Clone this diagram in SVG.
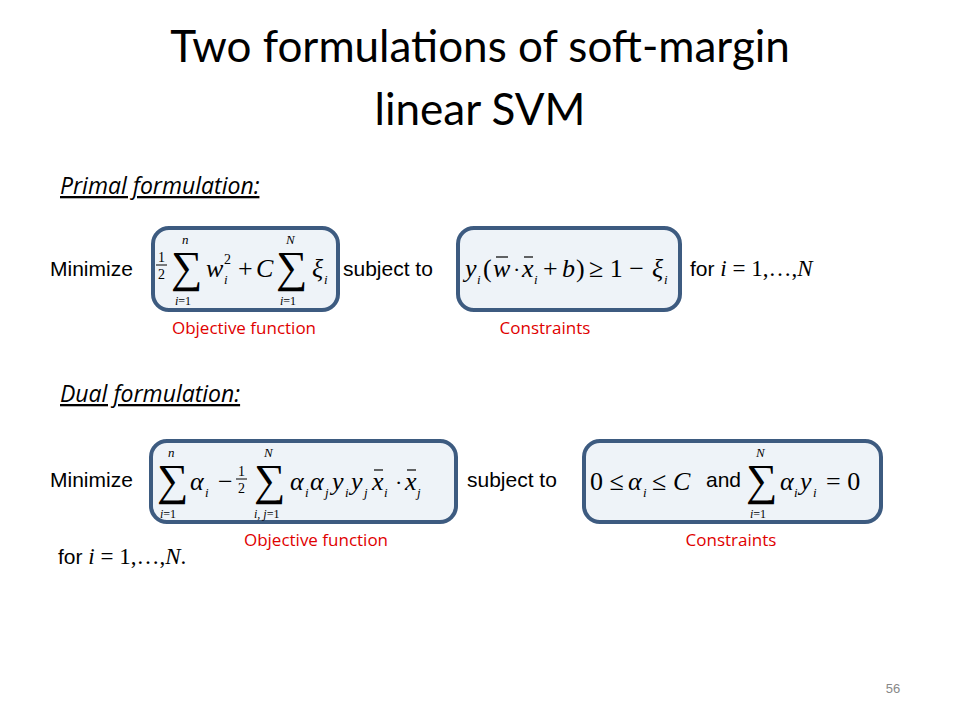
<svg xmlns="http://www.w3.org/2000/svg" width="960" height="720" viewBox="0 0 960 720">
<style>
.t{font-family:"Liberation Sans",Arial,sans-serif;fill:#000}
.ti{font-family:Lato,"Liberation Sans",sans-serif;fill:#000;font-size:44px}
.m{font-family:"Liberation Serif","Times New Roman",serif;font-style:italic;fill:#000}
.r{font-family:"Liberation Serif","Times New Roman",serif;fill:#000}
.s{font-family:"Liberation Serif","Times New Roman",serif;fill:#000;font-size:44px}
.box{fill:#eef3f8;stroke:#3d5b80;stroke-width:4}
.bar{stroke:#000;stroke-width:1.2}
.lab{font-family:"Open Sans","Liberation Sans",sans-serif;fill:#e00000;font-size:17px}
.h{font-family:"Open Sans","Liberation Sans",sans-serif;font-style:italic;font-size:23px;text-decoration:underline}
</style>
<rect width="960" height="720" fill="#fff"/>
<text class="ti" x="480" y="62" text-anchor="middle">Two formulations of soft-margin</text>
<text class="ti" x="480" y="125" text-anchor="middle">linear SVM</text>
<text class="h" x="60" y="194">Primal formulation:</text>
<text class="h" x="60" y="402">Dual formulation:</text>
<g id="primal-objective">
<rect class="box" x="153" y="228" width="185" height="82" rx="16"/>
<text class="r" x="158" y="262" font-size="14">1</text><line x1="156" y1="265" x2="167" y2="265" stroke="#000"/><text class="r" x="158" y="279" font-size="14">2</text>
<text class="s" x="171" y="282">∑</text>
<text class="m" x="182" y="244" font-size="13">n</text><text class="r" x="175" y="305" font-size="12"><tspan font-style="italic">i</tspan>=1</text>
<text class="m" x="206" y="277" font-size="26">w</text><text class="m" x="224" y="284" font-size="13">i</text><text class="r" x="224" y="264" font-size="14">2</text>
<text class="r" x="238" y="277" font-size="26">+</text><text class="m" x="256" y="277" font-size="26">C</text>
<text class="s" x="276" y="282">∑</text>
<text class="m" x="286" y="244" font-size="13">N</text><text class="r" x="280" y="305" font-size="12"><tspan font-style="italic">i</tspan>=1</text>
<text class="m" x="312" y="277" font-size="26">ξ</text><text class="m" x="324" y="284" font-size="13">i</text>
</g>
<g id="primal-constraint">
<rect class="box" x="458" y="228" width="222" height="82" rx="16"/>
<text class="m" x="465" y="277" font-size="26">y</text><text class="m" x="477" y="284" font-size="13">i</text>
<text class="r" x="483" y="277" font-size="26">(</text><text class="m" x="493" y="277" font-size="26">w</text><line class="bar" x1="496" y1="257" x2="508" y2="257"/>
<text class="r" x="513" y="277" font-size="22">·</text>
<text class="m" x="522" y="277" font-size="26">x</text><line class="bar" x1="524" y1="257" x2="533" y2="257"/><text class="m" x="534" y="284" font-size="13">i</text>
<text class="r" x="543" y="277" font-size="26">+</text><text class="m" x="562" y="277" font-size="26">b</text><text class="r" x="576" y="277" font-size="26">)</text>
<text class="r" x="589" y="277" font-size="26">≥ 1 −</text><text class="m" x="652" y="277" font-size="26">ξ</text><text class="m" x="664" y="284" font-size="13">i</text>
</g>
<text class="t" x="50" y="276" font-size="21">Minimize</text>
<text class="t" x="343" y="276" font-size="21">subject to</text>
<text class="t" x="690" y="276" font-size="21">for <tspan class="m" font-size="23">i</tspan><tspan class="r" font-size="23"> = 1,…,</tspan><tspan class="m" font-size="23">N</tspan></text>
<text class="lab" x="244" y="334" text-anchor="middle">Objective function</text>
<text class="lab" x="545" y="334" text-anchor="middle">Constraints</text>
<g id="dual-objective">
<rect class="box" x="151" y="441" width="305" height="81" rx="16"/>
<text class="s" x="157" y="495">∑</text>
<text class="m" x="168" y="457" font-size="13">n</text><text class="r" x="160" y="518" font-size="12"><tspan font-style="italic">i</tspan>=1</text>
<text class="m" x="190" y="490" font-size="26">α</text><text class="m" x="205" y="497" font-size="13">i</text>
<text class="r" x="218" y="490" font-size="26">−</text>
<text class="r" x="238" y="476" font-size="14">1</text><line x1="236" y1="479" x2="247" y2="479" stroke="#000"/><text class="r" x="238" y="493" font-size="14">2</text>
<text class="s" x="254" y="495">∑</text>
<text class="m" x="264" y="457" font-size="13">N</text><text class="r" x="254" y="518" font-size="12"><tspan font-style="italic">i, j</tspan>=1</text>
<text class="m" x="290" y="490" font-size="26">α</text><text class="m" x="305" y="497" font-size="13">i</text>
<text class="m" x="310" y="490" font-size="26">α</text><text class="m" x="325" y="497" font-size="13">j</text>
<text class="m" x="332" y="490" font-size="26">y</text><text class="m" x="345" y="497" font-size="13">i</text>
<text class="m" x="351" y="490" font-size="26">y</text><text class="m" x="364" y="497" font-size="13">j</text>
<text class="m" x="372" y="490" font-size="26">x</text><line class="bar" x1="374" y1="470" x2="383" y2="470"/><text class="m" x="384" y="497" font-size="13">i</text>
<text class="r" x="395" y="490" font-size="22">·</text>
<text class="m" x="405" y="490" font-size="26">x</text><line class="bar" x1="407" y1="470" x2="416" y2="470"/><text class="m" x="417" y="497" font-size="13">j</text>
</g>
<g id="dual-constraint">
<rect class="box" x="584" y="441" width="297" height="81" rx="16"/>
<text class="r" x="590" y="490" font-size="26">0 ≤</text><text class="m" x="628" y="490" font-size="26">α</text><text class="m" x="643" y="497" font-size="13">i</text>
<text class="r" x="652" y="490" font-size="26">≤</text><text class="m" x="673" y="490" font-size="26">C</text>
<text class="t" x="706" y="487" font-size="21">and</text>
<text class="s" x="746" y="495">∑</text>
<text class="m" x="756" y="457" font-size="13">N</text><text class="r" x="750" y="518" font-size="12"><tspan font-style="italic">i</tspan>=1</text>
<text class="m" x="780" y="490" font-size="26">α</text><text class="m" x="794" y="497" font-size="13">i</text>
<text class="m" x="800" y="490" font-size="26">y</text><text class="m" x="813" y="497" font-size="13">i</text>
<text class="r" x="826" y="490" font-size="26">= 0</text>
</g>
<text class="t" x="50" y="487" font-size="21">Minimize</text>
<text class="t" x="467" y="487" font-size="21">subject to</text>
<text class="t" x="58" y="564" font-size="21">for <tspan class="m" font-size="23">i</tspan><tspan class="r" font-size="23"> = 1,…,</tspan><tspan class="m" font-size="23">N</tspan><tspan class="r" font-size="23">.</tspan></text>
<text class="lab" x="316" y="546" text-anchor="middle">Objective function</text>
<text class="lab" x="731" y="546" text-anchor="middle">Constraints</text>
<text x="893" y="693" font-family="Liberation Sans,sans-serif" font-size="13" fill="#888" text-anchor="middle">56</text>
</svg>
